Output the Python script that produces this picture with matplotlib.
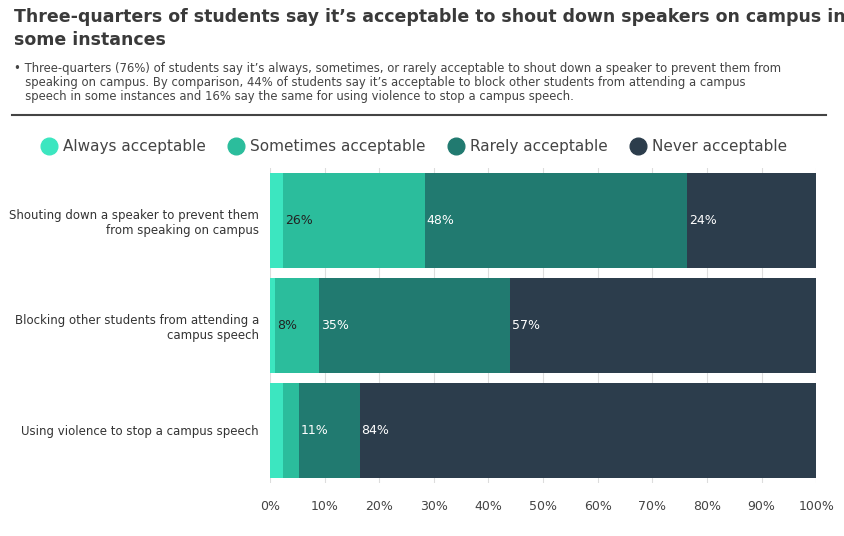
import matplotlib
matplotlib.use("Agg")
import matplotlib.pyplot as plt
import numpy as np

categories = ["Shouting down a speaker to prevent them\nfrom speaking on campus",
              "Blocking other students from attending a\ncampus speech",
              "Using violence to stop a campus speech"]
series = ["Always acceptable", "Sometimes acceptable", "Rarely acceptable", "Never acceptable"]
values = [
    [2.4, 1.0, 2.4],
    [26, 8, 3],
    [48, 35, 11],
    [24, 57, 84],
]
labels = [
    ["", "", ""],
    ["26%", "8%", ""],
    ["48%", "35%", "11%"],
    ["24%", "57%", "84%"],
]
colors = ["#3ce6c0", "#2bbd9c", "#217a70", "#2c3d4c"]
text_colors = ["#222", "#222", "white", "white"]

fig = plt.figure(figsize=(8.45, 5.36), dpi=100)
fig.text(0.016, 0.985, "Three-quarters of students say it’s acceptable to shout down speakers on campus in\nsome instances",
         fontsize=12.5, fontweight="bold", color="#3a3a3a", va="top", linespacing=1.35)
fig.text(0.016, 0.885, "• Three-quarters (76%) of students say it’s always, sometimes, or rarely acceptable to shout down a speaker to prevent them from\n"
         "   speaking on campus. By comparison, 44% of students say it’s acceptable to block other students from attending a campus\n"
         "   speech in some instances and 16% say the same for using violence to stop a campus speech.",
         fontsize=8.4, color="#444", va="top", linespacing=1.1)
fig.add_artist(plt.Line2D([0.014, 0.978], [0.785, 0.785], color="#444", lw=1.5))

ax = fig.add_axes([0.3195, 0.099, 0.6465, 0.588])
y = np.arange(len(categories))
left = np.zeros(len(categories))
for i, s in enumerate(series):
    v = np.array(values[i])
    ax.barh(y, v, left=left, height=0.9, color=colors[i], label=s, zorder=2)
    for j in range(len(categories)):
        if labels[i][j]:
            ax.text(left[j] + 0.3, y[j], labels[i][j], va="center", ha="left",
                    fontsize=9, color=text_colors[i], zorder=3)
    left += v
ax.set_xlim(0, 100)
ax.set_ylim(2.5, -0.5)
ax.set_yticks(y)
ax.set_yticklabels(categories, fontsize=8.5, color="#333")
ax.set_xticks(np.arange(0, 101, 10))
ax.set_xticklabels([f"{t}%" for t in range(0, 101, 10)], fontsize=9, color="#444")
ax.tick_params(length=0, pad=12)
ax.tick_params(axis="y", pad=8)
ax.grid(axis="x", color="#dddddd", lw=0.8, zorder=0)
for sp in ax.spines.values():
    sp.set_visible(False)
handles = [plt.Line2D([], [], marker="o", ls="", markersize=12, color=c) for c in colors]
fig.legend(handles, series, loc="center", bbox_to_anchor=(0.49, 0.726), ncol=4, frameon=False,
           fontsize=11, handlelength=1.0, columnspacing=1.5,
           handletextpad=0.4, labelcolor="#444")
fig.savefig("out.png", dpi=100)
